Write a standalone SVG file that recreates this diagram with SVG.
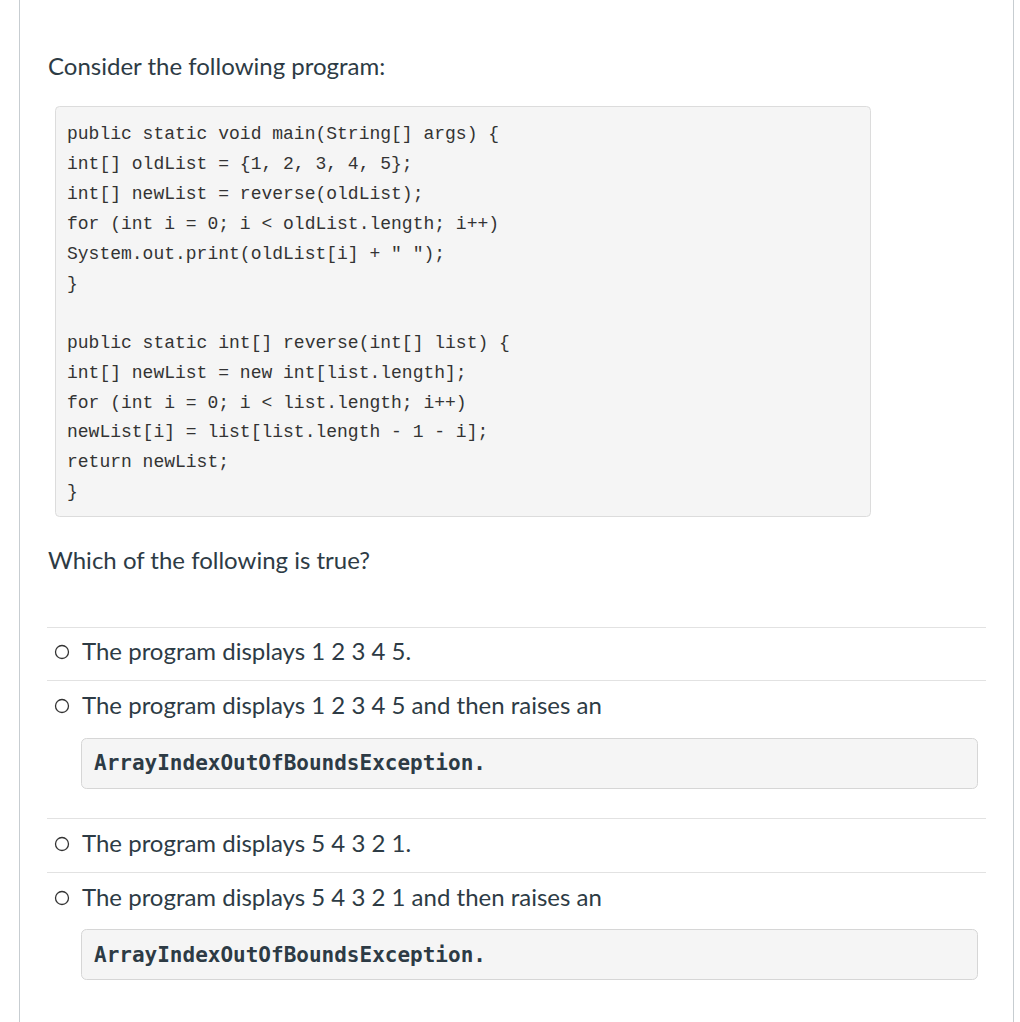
<svg xmlns="http://www.w3.org/2000/svg" width="1020" height="1022" viewBox="0 0 1020 1022">
<style>
.t{font-family:Lato,"Liberation Sans",sans-serif;font-size:24px;fill:#2d3b45}
.c{font-family:"Liberation Mono",monospace;font-size:18px;fill:#333}
.e{font-family:"DejaVu Sans Mono",monospace;font-size:21px;font-weight:bold;fill:#2d3b45}
.sep{stroke:#e2e2e2;stroke-width:1}
.r{fill:none;stroke:#333;stroke-width:1.3}
.eb{fill:#f5f5f5;stroke:#d6d6d6;rx:5}
</style>
<rect width="1020" height="1022" fill="#fff"/>
<line x1="19.5" y1="0" x2="19.5" y2="1022" stroke="#c7cdd1"/>
<line x1="1013.5" y1="0" x2="1013.5" y2="1022" stroke="#c7cdd1"/>
<text class="t" x="48" y="75">Consider the following program:</text>
<rect x="55.5" y="106.5" width="815" height="410" rx="4" fill="#f5f5f5" stroke="#dcdcdc"/>
<g class="c">
<text x="67" y="139">public static void main(String[] args) {</text>
<text x="67" y="169">  int[] oldList = {1, 2, 3, 4, 5};</text>
<text x="67" y="199">  int[] newList = reverse(oldList);</text>
<text x="67" y="229">  for (int i = 0; i &lt; oldList.length; i++)</text>
<text x="67" y="259">      System.out.print(oldList[i] + " ");</text>
<text x="67" y="289">}</text>
<text x="67" y="348">public static int[] reverse(int[] list) {</text>
<text x="67" y="378">  int[] newList = new int[list.length];</text>
<text x="67" y="408">  for (int i = 0; i &lt; list.length; i++)</text>
<text x="67" y="437">    newList[i] = list[list.length - 1 - i];</text>
<text x="67" y="467">  return newList;</text>
<text x="67" y="497">}</text>
</g>
<text class="t" x="48" y="569">Which of the following is true?</text>
<line class="sep" x1="47" y1="627.5" x2="986" y2="627.5"/>
<line class="sep" x1="47" y1="680.5" x2="986" y2="680.5"/>
<line class="sep" x1="47" y1="818.5" x2="986" y2="818.5"/>
<line class="sep" x1="47" y1="872.5" x2="986" y2="872.5"/>
<circle class="r" cx="62" cy="652" r="6.5"/>
<text class="t" x="82" y="660">The program displays 1 2 3 4 5.</text>
<circle class="r" cx="62" cy="706" r="6.5"/>
<text class="t" x="82" y="714">The program displays 1 2 3 4 5 and then raises an</text>
<rect class="eb" x="81.5" y="738.5" width="896" height="50" rx="5"/>
<text class="e" x="94" y="770">ArrayIndexOutOfBoundsException.</text>
<circle class="r" cx="62" cy="844" r="6.5"/>
<text class="t" x="82" y="852">The program displays 5 4 3 2 1.</text>
<circle class="r" cx="62" cy="898" r="6.5"/>
<text class="t" x="82" y="906">The program displays 5 4 3 2 1 and then raises an</text>
<rect class="eb" x="81.5" y="929.5" width="896" height="50" rx="5"/>
<text class="e" x="94" y="962">ArrayIndexOutOfBoundsException.</text>
</svg>
